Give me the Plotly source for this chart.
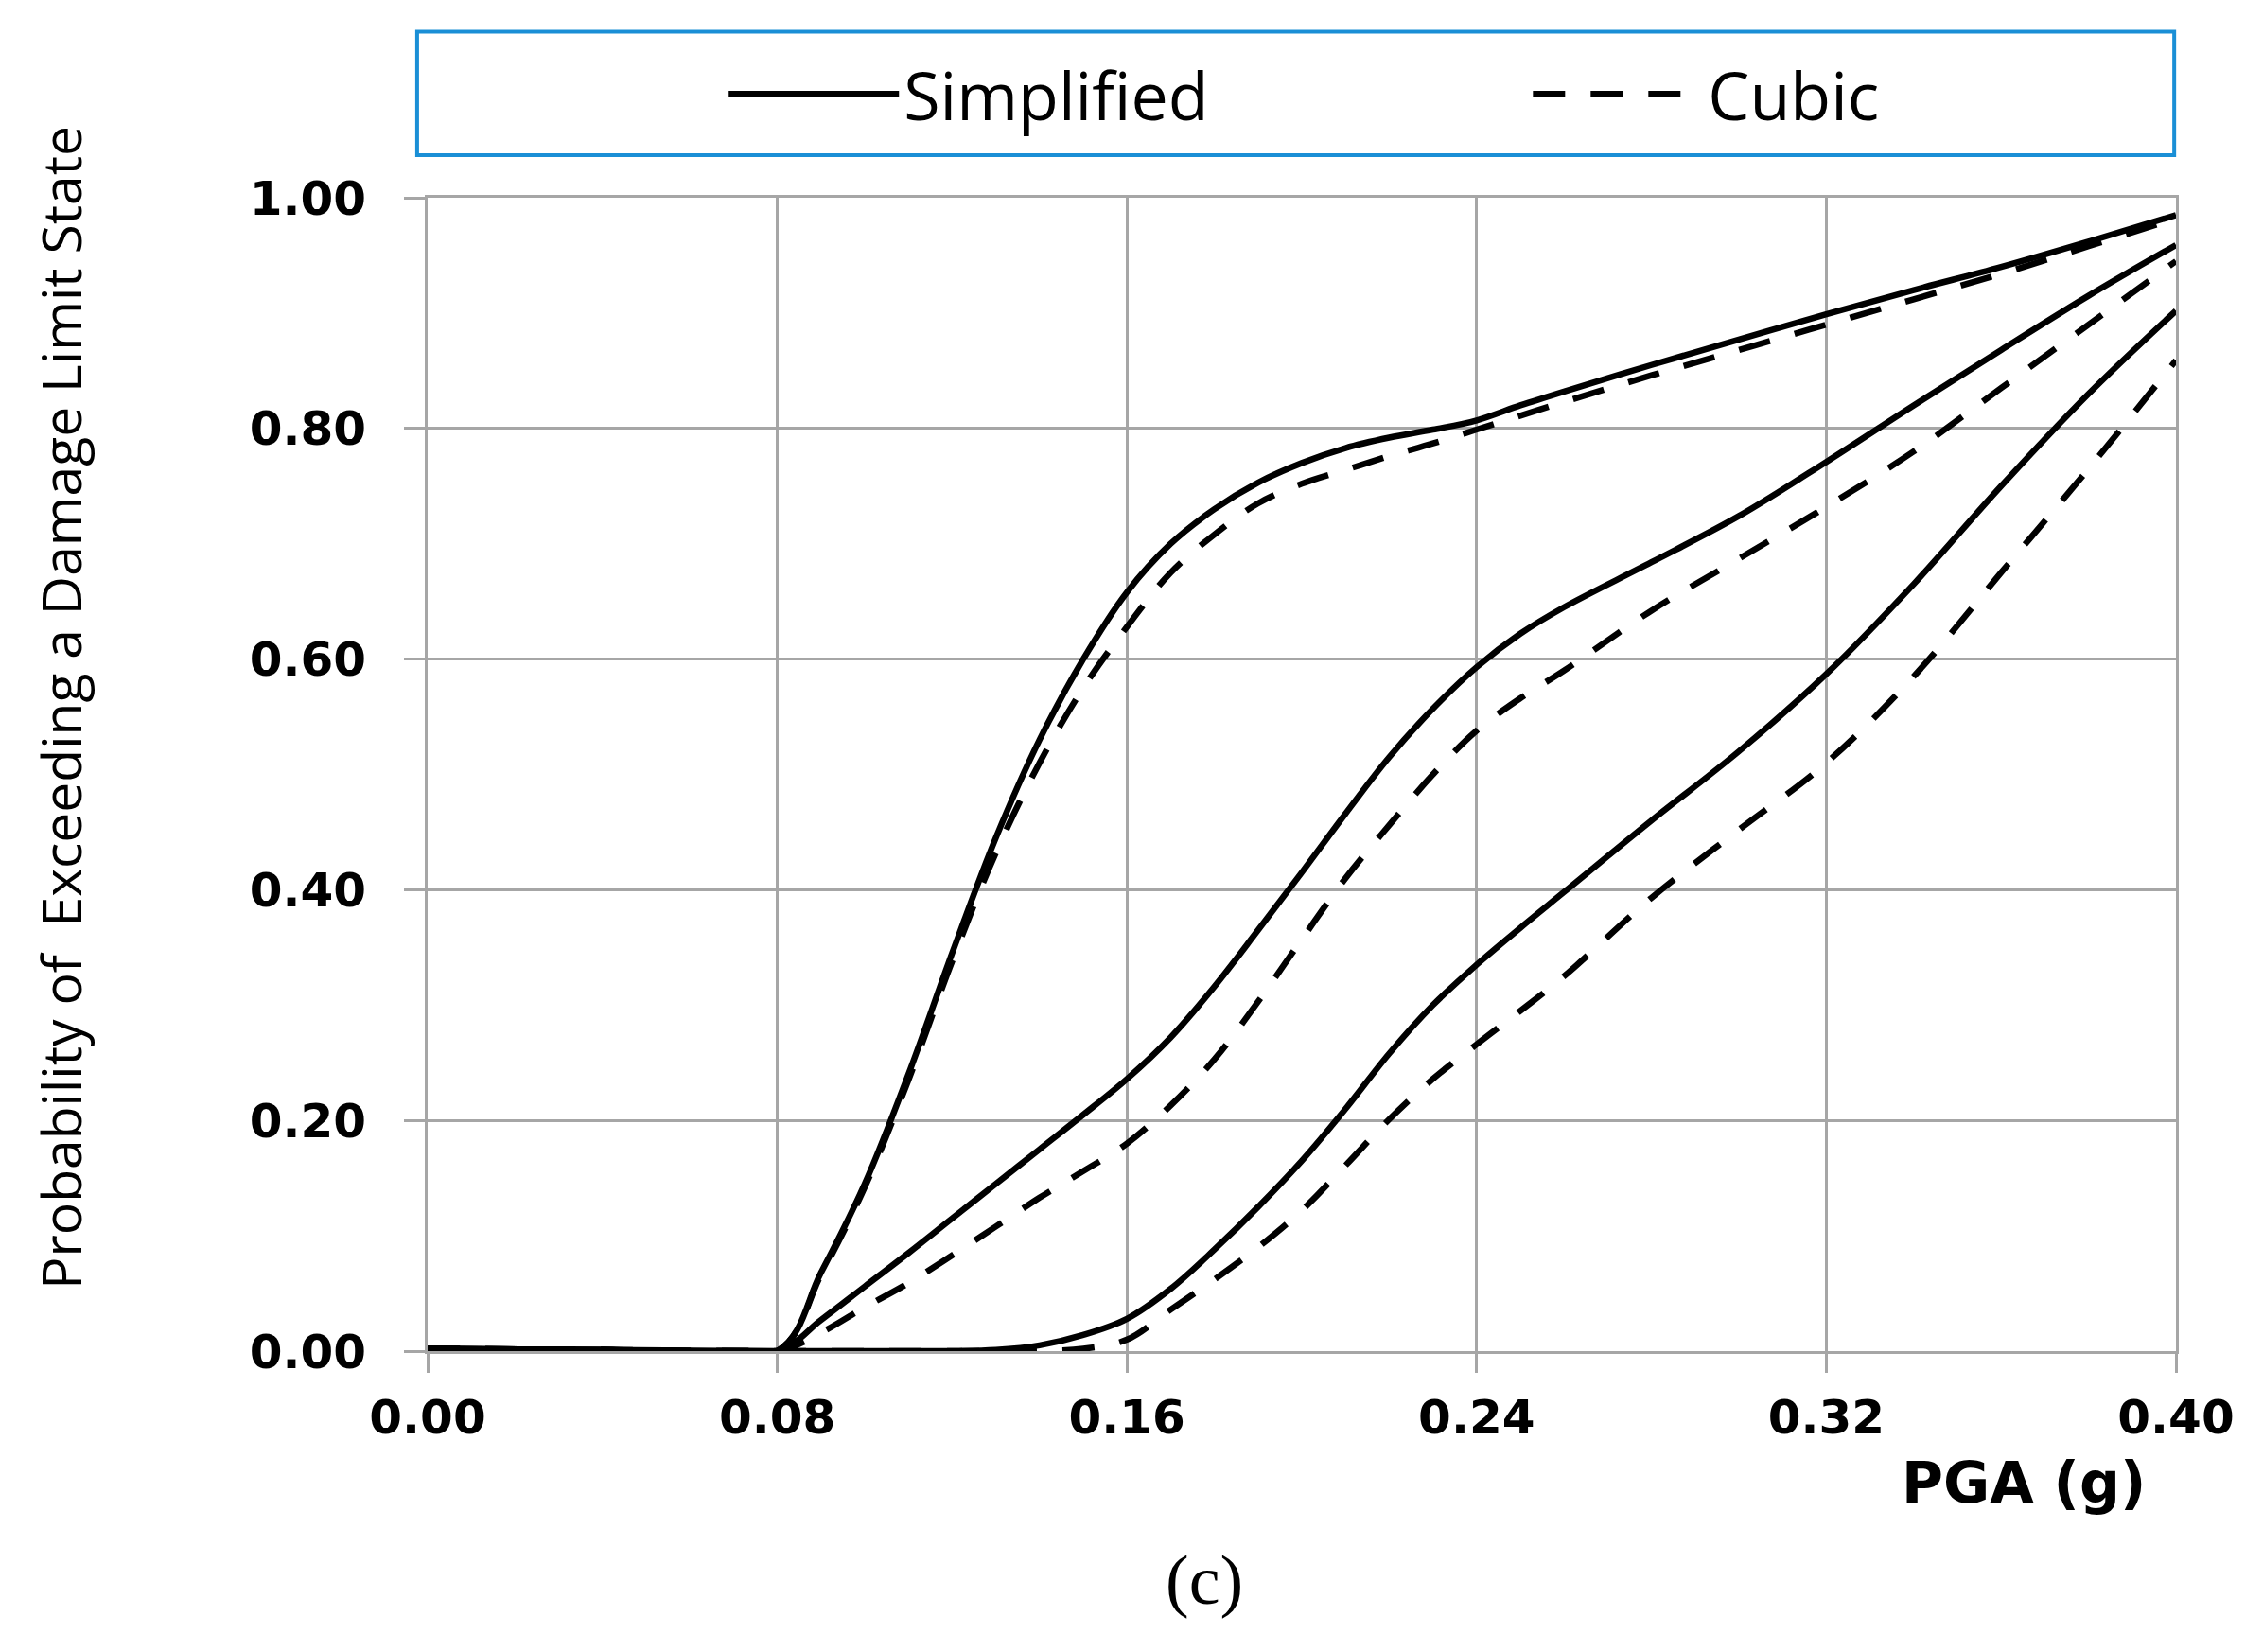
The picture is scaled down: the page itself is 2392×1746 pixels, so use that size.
import plotly.graph_objects as go

# PGA (g) values the curves were read at
pga = [0, 0.04, 0.08, 0.09, 0.10, 0.11, 0.12, 0.13, 0.14, 0.15, 0.16, 0.17, 0.18, 0.19,
       0.20, 0.21, 0.22, 0.23, 0.24, 0.25, 0.26, 0.28, 0.30, 0.32, 0.34, 0.36, 0.38, 0.40]

# probability of exceeding each damage limit state
ds1_simplified = [0.002, 0.001, 0, 0.068, 0.145, 0.24, 0.345, 0.445, 0.53, 0.6, 0.658, 0.70,
                  0.73, 0.753, 0.77, 0.783, 0.792, 0.799, 0.807, 0.82, 0.832, 0.855, 0.877,
                  0.899, 0.92, 0.94, 0.962, 0.985]
ds1_cubic = [0.002, 0.001, 0, 0.066, 0.142, 0.235, 0.338, 0.432, 0.51, 0.575, 0.628, 0.675,
             0.708, 0.735, 0.752, 0.764, 0.776, 0.787, 0.799, 0.811, 0.823, 0.846, 0.868,
             0.89, 0.912, 0.934, 0.958, 0.982]
ds2_simplified = [0.002, 0.001, 0, 0.027, 0.056, 0.085, 0.115, 0.145, 0.175, 0.205, 0.236,
                  0.272, 0.316, 0.365, 0.415, 0.466, 0.515, 0.557, 0.593, 0.622, 0.645,
                  0.684, 0.724, 0.771, 0.82, 0.868, 0.915, 0.959]
ds2_cubic = [0.002, 0.001, 0, 0.016, 0.038, 0.059, 0.083, 0.108, 0.133, 0.156, 0.18, 0.213,
             0.253, 0.303, 0.357, 0.41, 0.456, 0.5, 0.538, 0.566, 0.59, 0.642, 0.687, 0.732,
             0.78, 0.835, 0.89, 0.945]
ds3_simplified = [0.002, 0.001, 0, 0, 0, 0, 0, 0.001, 0.005, 0.014, 0.028, 0.054, 0.088,
                  0.125, 0.165, 0.21, 0.258, 0.3, 0.335, 0.367, 0.398, 0.46, 0.52, 0.587,
                  0.665, 0.75, 0.83, 0.902]
ds3_cubic = [0.002, 0.001, 0, 0, 0, 0, 0, 0, 0, 0.002, 0.01, 0.036, 0.062, 0.09, 0.122,
             0.161, 0.201, 0.236, 0.266, 0.295, 0.325, 0.393, 0.452, 0.51, 0.585, 0.675,
             0.765, 0.859]

x_ticks = [0, 0.08, 0.16, 0.24, 0.32, 0.40]
y_ticks = [0, 0.2, 0.4, 0.6, 0.8, 1.0]

dash = "34px,27px"
curves = [
    ("Simplified", ds1_simplified, "solid", "legend", True),
    ("Cubic", ds1_cubic, dash, "legend2", True),
    ("Simplified", ds2_simplified, "solid", "legend", False),
    ("Cubic", ds2_cubic, dash, "legend2", False),
    ("Simplified", ds3_simplified, "solid", "legend", False),
    ("Cubic", ds3_cubic, dash, "legend2", False),
]

fig = go.Figure()
for name, ys, style, leg, show in curves:
    fig.add_trace(go.Scatter(
        x=pga, y=ys, mode="lines", name=name, legend=leg, showlegend=show,
        line=dict(color="black", width=6.5, dash=style, shape="spline", smoothing=1),
    ))

grid = "#a6a6a6"
tick_font = dict(family="DejaVu Sans", size=50, color="black", weight="bold")

fig.update_xaxes(
    range=[0, 0.4], tickvals=x_ticks, ticktext=[f"{v:.2f}" for v in x_ticks],
    showgrid=True, gridcolor=grid, gridwidth=3, zeroline=False,
    showline=True, linecolor=grid, linewidth=3, mirror=True,
    ticks="outside", ticklen=20, tickwidth=3, tickcolor=grid,
    tickfont=tick_font, ticklabelstandoff=4,
)
fig.update_yaxes(
    range=[0, 1.0], tickvals=y_ticks, ticktext=[f"{v:.2f}" for v in y_ticks],
    showgrid=True, gridcolor=grid, gridwidth=3, zeroline=False,
    showline=True, linecolor=grid, linewidth=3, mirror=True,
    ticks="outside", ticklen=22, tickwidth=3, tickcolor=grid,
    tickfont=tick_font, ticklabelstandoff=30,
)

legend_font = dict(family="Open Sans", size=70, color="black")
fig.update_layout(
    width=2392, height=1746,
    margin=dict(l=444, r=100, t=201, b=326),
    plot_bgcolor="white", paper_bgcolor="white",
    legend=dict(orientation="h", x=0.1695, xanchor="left", y=1.09, yanchor="middle",
                font=legend_font, itemwidth=180, bgcolor="rgba(0,0,0,0)"),
    legend2=dict(orientation="h", x=0.6295, xanchor="left", y=1.09, yanchor="middle",
                 font=legend_font, itemwidth=180, bgcolor="rgba(0,0,0,0)"),
    shapes=[dict(
        type="rect", xref="paper", yref="paper",
        x0=-0.006, x1=0.999, y0=1.037, y1=1.144,
        line=dict(color="#1a8fd6", width=4), fillcolor="rgba(0,0,0,0)",
    )],
    annotations=[
        dict(text="Probability of  Exceeding a Damage Limit State", textangle=-90,
             xref="paper", yref="paper", x=-0.21, y=0.558, showarrow=False,
             xanchor="center", yanchor="middle",
             font=dict(family="Open Sans", size=57, color="black")),
        dict(text="PGA (g)", xref="paper", yref="paper", x=0.984, y=-0.114,
             xanchor="right", yanchor="middle", showarrow=False,
             font=dict(family="DejaVu Sans", size=60, color="black", weight="bold")),
        dict(text="(c)", xref="paper", yref="paper", x=0.444, y=-0.1985,
             xanchor="center", yanchor="middle", showarrow=False,
             font=dict(family="Liberation Serif", size=74, color="black")),
    ],
)

fig.write_html("out.html")
